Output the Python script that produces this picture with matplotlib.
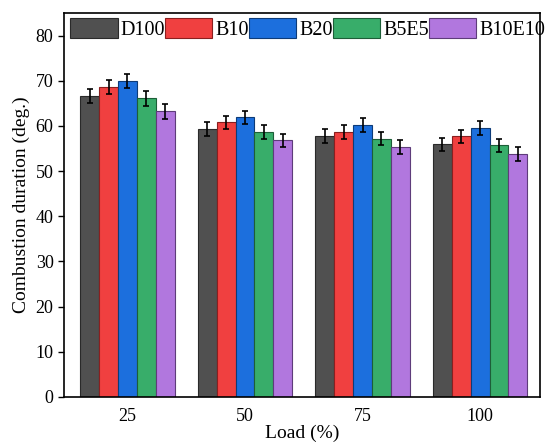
import numpy as np
import matplotlib
matplotlib.use("Agg")
import matplotlib.pyplot as plt

loads = ["25", "50", "75", "100"]
fuels = ["D100", "B10", "B20", "B5E5", "B10E10"]
d100 = [66.6, 59.3, 57.8, 55.9]
b10 = [68.6, 60.8, 58.6, 57.7]
b20 = [69.9, 61.9, 60.2, 59.6]
b5e5 = [66.1, 58.6, 57.2, 55.7]
b10e10 = [63.2, 56.8, 55.3, 53.8]
err = [1.6, 1.5, 1.5, 1.5]

colors = ["#505050", "#f04040", "#1c6fdd", "#38ad6a", "#b177de"]
edges = ["#2a2a2a", "#8a1f1f", "#0d3b78", "#1d5e38", "#5e3c7a"]

plt.rcParams["font.family"] = ["Liberation Serif", "DejaVu Serif"]

fig = plt.figure(figsize=(5.5, 4.45), dpi=100)
ax = fig.add_axes([0.1164, 0.1079, 0.8654, 0.8629])

x = np.arange(len(loads))
w = 0.161
series = [d100, b10, b20, b5e5, b10e10]
for i, vals in enumerate(series):
    ax.bar(x + (i - 2) * w, vals, w, color=colors[i], edgecolor=edges[i],
           linewidth=0.8, label=fuels[i],
           yerr=err, capsize=2.2, error_kw=dict(ecolor="black", elinewidth=1.2, capthick=1.2))

ax.set_xlim(-0.54, 3.51)
ax.set_ylim(0, 85)
ax.set_xticks(x)
ax.set_xticklabels(loads)
ax.set_yticks(range(0, 90, 10))
ax.tick_params(axis="x", length=0, labelsize=13, pad=8)
ax.tick_params(axis="y", direction="out", length=4, width=1, labelsize=13)
for s in ax.spines.values():
    s.set_linewidth(1.2)

ax.set_xlabel("Load (%)", fontsize=14, labelpad=0)
ax.set_ylabel("Combustion duration (deg.)", fontsize=14, labelpad=4)

ax.legend(loc="upper left", bbox_to_anchor=(-0.008, 1.012), ncol=5, frameon=False,
          fontsize=14.5, handlelength=2.35, handleheight=1.15, handletextpad=0.15,
          columnspacing=0.0, borderaxespad=0.2, borderpad=0.3)

fig.savefig("out.png", dpi=100)
